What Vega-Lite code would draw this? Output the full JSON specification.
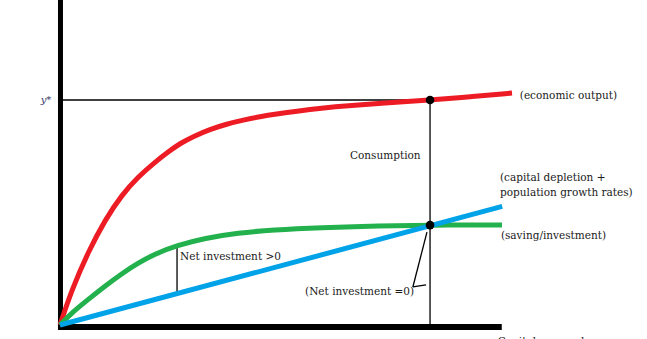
{
  "$schema": "https://vega.github.io/schema/vega-lite/v6.json",
  "width": 647,
  "height": 339,
  "padding": 0,
  "autosize": {"type": "none"},
  "background": "white",
  "config": {"view": {"stroke": null}},
  "datasets": {
    "curves": [
      {"series": "output", "k": 0, "y": 0},
      {"series": "output", "k": 2.66, "y": 15.56},
      {"series": "output", "k": 6.43, "y": 32.58},
      {"series": "output", "k": 10.23, "y": 46.67},
      {"series": "output", "k": 14.02, "y": 57.78},
      {"series": "output", "k": 17.8, "y": 65.91},
      {"series": "output", "k": 21.59, "y": 72.44},
      {"series": "output", "k": 25.0, "y": 77.5},
      {"series": "output", "k": 27.27, "y": 80.67},
      {"series": "output", "k": 30.3, "y": 83.8},
      {"series": "output", "k": 34.09, "y": 86.98},
      {"series": "output", "k": 37.89, "y": 89.33},
      {"series": "output", "k": 41.66, "y": 91.11},
      {"series": "output", "k": 45.45, "y": 92.58},
      {"series": "output", "k": 49.25, "y": 93.78},
      {"series": "output", "k": 53.02, "y": 94.8},
      {"series": "output", "k": 56.82, "y": 95.77},
      {"series": "output", "k": 60.61, "y": 96.58},
      {"series": "output", "k": 63.64, "y": 97.2},
      {"series": "output", "k": 73.86, "y": 98.67},
      {"series": "output", "k": 84.09, "y": 100},
      {"series": "output", "k": 93.18, "y": 101.42},
      {"series": "output", "k": 102.73, "y": 103.11},
      {"series": "saving", "k": 0, "y": 0},
      {"series": "saving", "k": 2.66, "y": 5.4},
      {"series": "saving", "k": 6.43, "y": 11.4},
      {"series": "saving", "k": 10.23, "y": 17.3},
      {"series": "saving", "k": 14.02, "y": 22.8},
      {"series": "saving", "k": 17.8, "y": 27.6},
      {"series": "saving", "k": 21.59, "y": 31.6},
      {"series": "saving", "k": 26.52, "y": 35.3},
      {"series": "saving", "k": 32.95, "y": 38.6},
      {"series": "saving", "k": 40.45, "y": 40.9},
      {"series": "saving", "k": 48.41, "y": 42.3},
      {"series": "saving", "k": 59.09, "y": 43.3},
      {"series": "saving", "k": 72.73, "y": 44.0},
      {"series": "saving", "k": 84.09, "y": 44.44},
      {"series": "saving", "k": 100.45, "y": 44.44},
      {"series": "depletion", "k": 0, "y": 0},
      {"series": "depletion", "k": 100.5, "y": 52.7}
    ],
    "axes": [
      {"k": 0.11, "k2": 0.11, "y": -2.2, "y2": 144.4, "w": "y"},
      {"k": -0.45, "k2": 100.4, "y": -0.89, "y2": -0.89, "w": "x"}
    ],
    "thin": [
      {"k": 0.5, "k2": 84.1, "y": 100, "y2": 100},
      {"k": 84.1, "k2": 84.1, "y": -0.5, "y2": 100},
      {"k": 26.6, "k2": 26.6, "y": 13.9, "y2": 35.0},
      {"k": 83.4, "k2": 80.2, "y": 41.3, "y2": 16.9},
      {"k": 80.2, "k2": 83.2, "y": 16.9, "y2": 17.8}
    ],
    "dots": [
      {"k": 84.1, "y": 100},
      {"k": 84.1, "y": 44.4}
    ],
    "labels": [
      {"k": 65.9, "y": 75.1, "text": "Consumption"},
      {"k": 104.5, "y": 101.8, "text": "(economic output)"},
      {"k": 100, "y": 65.3, "text": "(capital depletion +"},
      {"k": 100, "y": 58.7, "text": "population growth rates)"},
      {"k": 100.2, "y": 39.6, "text": "(saving/investment)"},
      {"k": 27.3, "y": 30.2, "text": "Net investment >0"},
      {"k": 55.7, "y": 14.7, "text": "(Net investment =0)"},
      {"k": 99.5, "y": -7.5, "text": "Capital per worker"}
    ],
    "ystar": [
      {"k": -4.4, "y": 99.8, "text": "y*"}
    ]
  },
  "layer": [
    {
      "data": {"name": "axes"},
      "transform": [{"filter": "datum.w == 'y'"}],
      "mark": {"type": "rule", "color": "black", "strokeWidth": 5, "strokeCap": "butt"},
      "encoding": {
        "x": {"field": "k", "type": "quantitative", "scale": {"domain": [-13.636, 133.409], "nice": false, "zero": false}, "axis": null},
        "x2": {"field": "k2"},
        "y": {"field": "y", "type": "quantitative", "scale": {"domain": [-6.222, 144.444], "nice": false, "zero": false}, "axis": null},
        "y2": {"field": "y2"}
      }
    },
    {
      "data": {"name": "axes"},
      "transform": [{"filter": "datum.w == 'x'"}],
      "mark": {"type": "rule", "color": "black", "strokeWidth": 6, "strokeCap": "butt"},
      "encoding": {
        "x": {"field": "k", "type": "quantitative"},
        "x2": {"field": "k2"},
        "y": {"field": "y", "type": "quantitative"},
        "y2": {"field": "y2"}
      }
    },
    {
      "data": {"name": "thin"},
      "mark": {"type": "rule", "color": "black", "strokeWidth": 1.3},
      "encoding": {
        "x": {"field": "k", "type": "quantitative"},
        "x2": {"field": "k2"},
        "y": {"field": "y", "type": "quantitative"},
        "y2": {"field": "y2"}
      }
    },
    {
      "data": {"name": "curves"},
      "mark": {"type": "line", "strokeWidth": 5, "interpolate": "basis", "strokeCap": "butt"},
      "encoding": {
        "x": {"field": "k", "type": "quantitative"},
        "y": {"field": "y", "type": "quantitative"},
        "color": {"field": "series", "type": "nominal", "scale": {"domain": ["output", "saving", "depletion"], "range": ["#ED1C24", "#22B14C", "#00A2E8"]}, "legend": null}
      }
    },
    {
      "data": {"name": "dots"},
      "mark": {"type": "point", "filled": true, "color": "black", "size": 75, "opacity": 1},
      "encoding": {
        "x": {"field": "k", "type": "quantitative"},
        "y": {"field": "y", "type": "quantitative"}
      }
    },
    {
      "data": {"name": "labels"},
      "mark": {"type": "text", "align": "left", "baseline": "middle", "font": "DejaVu Serif", "fontSize": 10.5, "color": "#1a1a1a"},
      "encoding": {
        "x": {"field": "k", "type": "quantitative"},
        "y": {"field": "y", "type": "quantitative"},
        "text": {"field": "text"}
      }
    },
    {
      "data": {"name": "ystar"},
      "mark": {"type": "text", "align": "left", "baseline": "middle", "font": "DejaVu Serif", "fontSize": 10, "fontStyle": "italic", "color": "#333366"},
      "encoding": {
        "x": {"field": "k", "type": "quantitative"},
        "y": {"field": "y", "type": "quantitative"},
        "text": {"field": "text"}
      }
    }
  ]
}
